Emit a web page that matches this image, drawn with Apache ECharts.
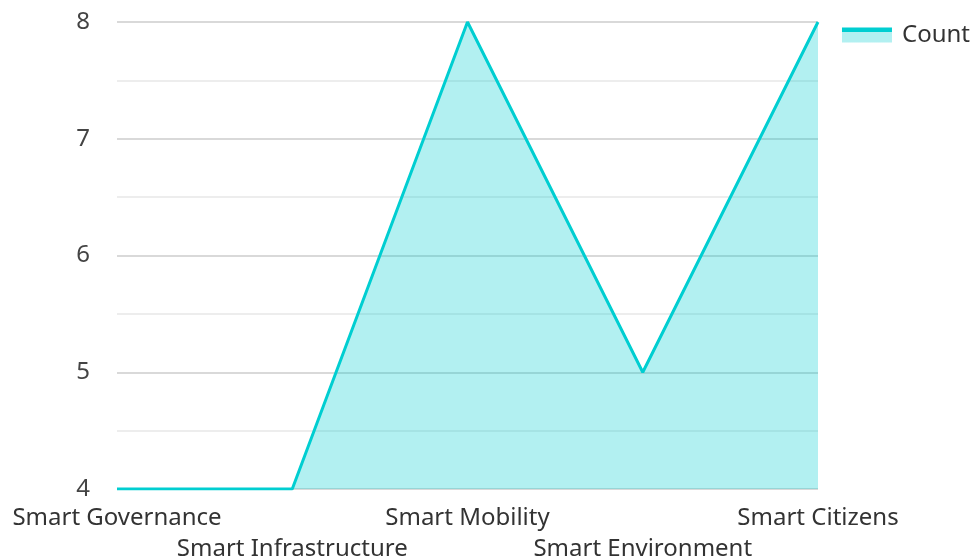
<!DOCTYPE html>
<html><head><meta charset="utf-8">
<script src="https://cdn.jsdelivr.net/npm/echarts@6/dist/echarts.min.js"></script>
<style>html,body{margin:0;padding:0;background:#fff}#c{width:975px;height:560px}</style>
</head><body><div id="c"></div>
<script>
const categories = ['Smart Governance','Smart Infrastructure','Smart Mobility','Smart Environment','Smart Citizens'];
const counts = [4,4,8,5,8];
const seriesName = 'Count';
const FONT = '"Noto Sans", "Open Sans", sans-serif';
const chart = echarts.init(document.getElementById('c'));
const legendFill = new echarts.graphic.LinearGradient(0,0,0,1,[
  {offset:0,color:'#00CED1'},{offset:0.27,color:'#00CED1'},
  {offset:0.27,color:'#B2F0F1'},{offset:1,color:'#B2F0F1'}]);
chart.setOption({
  animation:false,
  grid:{left:117,right:157,top:22,bottom:71,outerBoundsMode:'none',containLabel:false},
  legend:{data:[{name:seriesName,icon:'rect',itemStyle:{color:legendFill}}],right:0,top:18,itemWidth:50,itemHeight:15,
    textStyle:{fontFamily:FONT,fontSize:24,color:'#333',padding:[0,0,6,5]}},
  xAxis:{type:'category',data:categories,boundaryGap:false,
    axisLine:{show:false},axisTick:{show:false},
    axisLabel:{interval:0,fontFamily:FONT,fontSize:24,color:'#333',margin:14,lineHeight:31,
      formatter:(v,i)=> i%2 ? '\n'+v : v}},
  yAxis:{type:'value',min:4,max:8,interval:1,
    axisLabel:{fontFamily:FONT,fontSize:24,color:'#444',margin:27},
    splitLine:{lineStyle:{color:'#cccccc',width:1.5}},
    minorTick:{show:false,splitNumber:2},
    minorSplitLine:{show:true,lineStyle:{color:'#e8e8e8',width:1.5}}},
  series:[{name:seriesName,type:'line',data:counts,symbol:'none',
    lineStyle:{color:'#00CED1',width:3},itemStyle:{color:'#00CED1'},
    areaStyle:{color:'#00CED1',opacity:0.3}}]
});
</script></body></html>
